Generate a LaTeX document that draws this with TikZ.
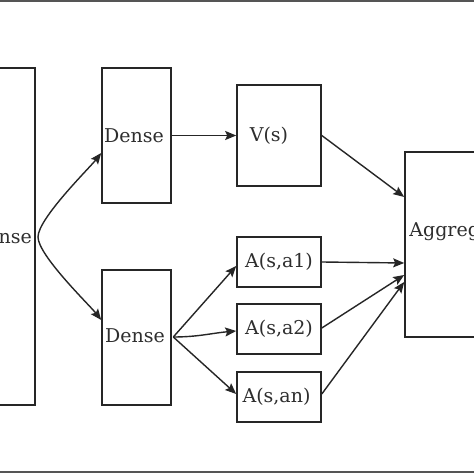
\documentclass[tikz,border=0pt]{standalone}
\usepackage{fontspec}
\setmainfont{DejaVu Serif}
\usetikzlibrary{arrows.meta,calc}
\definecolor{linecol}{HTML}{262626}
\definecolor{txtcol}{HTML}{2E2E2E}
\definecolor{barcol}{HTML}{555555}
\tikzset{
  box/.style={draw=linecol, line width=1.6pt, fill=white, inner sep=0pt,
    text=txtcol, font=\fontsize{19}{22}\selectfont},
  txt/.style={text=txtcol, font=\fontsize{19}{22}\selectfont, inner sep=2pt},
  arr/.style={draw=linecol, line width=1.4pt,
    -{Stealth[length=11pt,width=9pt,inset=2pt]}},
}
\begin{document}
\begin{tikzpicture}[x=1pt,y=1pt]
\useasboundingbox (0,0) rectangle (474,474);
\clip (0,0) rectangle (474,474);
\fill[white] (0,0) rectangle (474,474);
\fill[barcol] (0,472) rectangle (474,474);
\fill[barcol] (0,1.2) rectangle (474,3);
% boxes
\node[box, minimum width=66pt, minimum height=337pt] (L) at (2,237.5) {Dense};
\node[box, minimum width=69pt, minimum height=135pt] (d1) at (136.5,338.5) {Dense\hspace*{5pt}};
\node[box, minimum width=69pt, minimum height=135pt] (d2) at (136.5,136.5) {\raisebox{3pt}{Dense}\hspace*{3pt}};
\node[box, minimum width=84pt, minimum height=101pt] (v) at (279,338.5) {V(s)\hspace*{20pt}};
\node[box, minimum width=84pt, minimum height=50pt] (a1) at (279,212) {A(s,a1)};
\node[box, minimum width=84pt, minimum height=50pt] (a2) at (279,145) {A(s,a2)};
\node[box, minimum width=84pt, minimum height=50pt] (an) at (279,77) {A(s,an)\hspace*{5pt}};
\node[box, minimum width=120pt, minimum height=185pt] (agg) at (465,229.5) {};
\node[txt, anchor=west] (aggtext) at ([xshift=3pt,yshift=12.5pt]agg.west) {Aggregate};
% connectors
\coordinate (split) at (38,237);
\draw[arr] (split) to[out=90,in=232,looseness=0.45] ([yshift=-17.5pt]d1.west);
\draw[arr] (split) to[out=-90,in=128,looseness=0.45] ([yshift=17.5pt]d2.west);
\draw[arr] (d1) -- (v);
\draw[arr] (v.east) -- ([yshift=47.5pt]agg.west);
\coordinate (d2out) at ([xshift=1.5pt,yshift=0.5pt]d2.east);
\draw[arr] (d2out) -- ([yshift=-4pt]a1.west);
\draw[arr] (d2out) to[out=0,in=185] ([yshift=-2pt]a2.west);
\draw[arr] (d2out) -- ([yshift=3pt]an.west);
\draw[arr] (a1.east) -- ([yshift=-18.5pt]agg.west);
\draw[arr] ([yshift=1pt]a2.east) -- ([yshift=-30.5pt]agg.west);
\draw[arr] ([yshift=3pt]an.east) -- ([yshift=-37.5pt]agg.west);
\end{tikzpicture}
\end{document}
